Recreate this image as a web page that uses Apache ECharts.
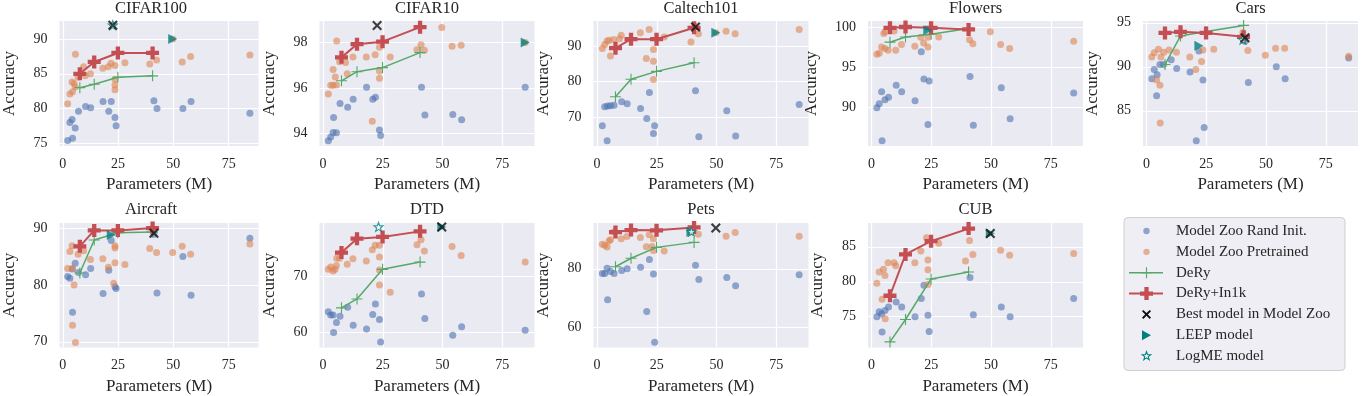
<!DOCTYPE html>
<html>
<head>
<meta charset="utf-8">
<script src="https://cdn.jsdelivr.net/npm/echarts@6/dist/echarts.min.js"></script>
<style>
  html, body { margin: 0; padding: 0; background: #fff; }
  #chart { width: 1362px; height: 396px; }
</style>
</head>
<body>
<div id="chart"></div>
<script>
const datasets = ['CIFAR100', 'CIFAR10', 'Caltech101', 'Flowers', 'Cars', 'Aircraft', 'DTD', 'Pets', 'CUB'];
const xTicks = [0, 25, 50, 75];
const yTicks = [[75, 80, 85, 90], [94, 96, 98], [70, 80, 90], [90, 95, 100], [85, 90, 95], [70, 80, 90], [60, 70], [60, 80], [75, 80, 85]];
const yRanges = [[74.6, 92.6], [93.45, 98.95], [62, 97], [85.1, 100.75], [81, 95.2], [69, 90.9], [57.3, 79.6], [53.2, 95.6], [70.6, 88.4]];
const legendNames = ['Model Zoo Rand Init.', 'Model Zoo Pretrained', 'DeRy', 'DeRy+In1k', 'Best model in Model Zoo', 'LEEP model', 'LogME model'];

// DeRy models (same sizes on every dataset)
const deryParams = [7.7, 14.2, 24.9, 40.6];
const dery = [
  [83.0, 83.5, 84.5, 84.7],
  [96.32, 96.72, 96.9, 97.56],
  [75.8, 80.7, 82.9, 85.3],
  [98.1, 98.75, 99.1, 99.8],
  [90.25, 93.5, 94.0, 94.7],
  [82.1, 87.9, 89.2, 89.3],
  [64.4, 66.0, 71.3, 72.6],
  [80.7, 83.6, 87.3, 89.0],
  [71.4, 74.6, 80.4, 81.4]
];
const deryIn1k = [
  [85.0, 86.7, 88.0, 88.0],
  [97.35, 97.93, 98.04, 98.68],
  [89.4, 91.9, 91.9, 95.1],
  [99.9, 100.0, 99.9, 99.7],
  [93.85, 93.97, 93.85, 93.4],
  [86.8, 89.6, 89.6, 90.0],
  [74.3, 76.8, 77.1, 78.1],
  [92.5, 93.2, 93.1, 94.1],
  [78.0, 83.9, 85.8, 87.6]
];

// model zoo, [params (M), accuracy]
const randInit = [
  [[2.2,75.4],[4.4,75.7],[3.2,78.0],[4.2,78.4],[5.6,77.2],[7.1,79.6],[10.3,80.3],[12.6,80.1],[18.2,81.0],[20.8,79.6],[21.9,81.0],[23.6,78.7],[24.1,77.5],[41.2,81.1],[42.6,80.0],[54.3,80.0],[58.0,81.0],[84.6,79.3]],
  [[2.2,93.68],[3.2,93.85],[4.2,94.04],[5.6,94.03],[4.4,94.7],[7.1,95.32],[10.3,95.16],[12.6,95.51],[18.2,96.04],[20.8,95.51],[21.9,95.6],[23.6,94.15],[24.1,93.91],[41.2,96.04],[42.6,94.81],[54.3,94.84],[58.0,94.6],[84.6,96.04]],
  [[2.2,67.7],[4.2,63.5],[3.2,73.0],[4.4,73.2],[5.6,73.3],[7.1,73.4],[10.3,74.4],[12.6,73.8],[18.2,72.5],[20.8,69.7],[21.9,77.0],[23.6,65.5],[24.1,67.7],[41.2,77.5],[42.6,64.6],[54.3,71.9],[58.0,64.8],[84.6,73.6]],
  [[2.2,89.9],[3.2,90.4],[4.2,91.9],[4.4,85.75],[5.6,90.9],[7.1,91.2],[10.3,92.7],[12.6,91.9],[18.2,90.75],[20.8,96.9],[21.9,93.5],[24.1,93.25],[23.6,87.8],[41.2,93.8],[42.6,87.7],[54.3,92.4],[58.0,88.5],[84.6,91.75]],
  [[2.2,88.65],[3.2,89.7],[4.2,86.7],[4.4,89.1],[5.6,90.25],[7.1,90.25],[10.3,90.8],[12.6,89.8],[18.2,89.4],[20.8,81.6],[21.9,91.8],[23.6,88.5],[24.1,83.1],[41.2,92.9],[42.6,88.2],[54.3,90.0],[58.0,88.65],[84.6,91.0]],
  [[2.2,81.5],[3.2,81.2],[4.2,82.8],[5.6,83.8],[4.4,75.2],[7.1,82.2],[10.3,81.8],[12.6,82.9],[18.2,78.5],[20.8,82.6],[21.9,87.8],[23.6,79.7],[24.1,79.4],[41.2,88.9],[42.6,78.6],[54.3,85.0],[58.0,78.2],[84.6,88.2]],
  [[2.2,63.7],[3.2,63.1],[4.2,63.1],[4.4,60.0],[5.6,61.8],[7.1,62.9],[10.3,64.5],[12.6,61.3],[18.2,60.6],[20.8,63.2],[21.9,65.1],[23.6,62.3],[24.1,58.3],[41.2,66.9],[42.6,62.5],[54.3,59.5],[58.0,61.0],[84.6,60.4]],
  [[2.2,78.4],[3.2,78.4],[4.2,80.2],[5.6,79.1],[7.1,78.4],[10.3,79.4],[12.6,80.0],[18.2,80.5],[20.8,65.5],[21.9,83.2],[23.6,78.2],[24.1,55.0],[4.4,69.5],[41.2,81.25],[42.6,76.4],[54.3,77.0],[58.0,74.2],[84.6,78.0]],
  [[2.2,75.0],[3.2,75.7],[4.4,72.8],[4.2,75.4],[5.6,75.9],[7.1,76.4],[10.3,77.1],[12.6,76.4],[18.2,75.0],[20.8,77.6],[21.9,79.5],[23.6,75.2],[24.1,72.9],[41.2,80.6],[42.6,75.3],[54.3,76.4],[58.0,75.0],[84.6,77.6]]
];
const pretrained = [
  [[2.2,80.7],[3.2,82.1],[4.2,83.8],[4.4,82.4],[5.1,83.6],[5.7,87.8],[5.6,83.1],[6.9,84.5],[9.4,86.0],[10.1,84.7],[12.5,85.0],[18.1,85.8],[20.6,86.0],[21.8,86.5],[23.6,86.2],[23.6,84.2],[23.6,83.4],[23.6,82.7],[28.1,86.6],[39.3,86.4],[42.4,87.0],[49.7,90.0],[54.0,86.7],[57.8,87.5],[84.6,87.7]],
  [[2.2,95.74],[3.2,96.12],[4.2,96.12],[5.6,96.13],[4.2,96.82],[5.1,96.49],[5.7,98.07],[6.9,97.16],[9.4,97.12],[10.1,96.63],[12.5,97.37],[18.1,97.37],[21.8,97.47],[23.6,97.79],[23.6,96.75],[23.6,96.43],[20.6,94.54],[28.1,97.37],[39.3,97.69],[41.0,97.91],[42.4,97.66],[49.7,98.66],[54.0,97.84],[57.8,97.88],[84.6,98.0]],
  [[2.2,89.3],[3.2,90.4],[4.2,91.4],[5.0,91.6],[5.6,87.2],[6.9,91.8],[9.4,92.0],[10.1,93.0],[18.1,93.7],[21.8,94.6],[20.6,86.5],[23.6,89.0],[23.6,85.7],[23.6,80.6],[28.1,92.5],[39.3,91.1],[42.4,93.4],[41.0,95.5],[49.7,93.7],[54.0,94.1],[57.8,93.4],[84.6,94.6]],
  [[2.2,96.6],[3.2,96.7],[4.2,97.5],[5.1,99.2],[5.7,99.4],[5.6,97.3],[6.9,97.1],[9.4,99.5],[10.1,97.1],[12.5,97.8],[18.1,97.6],[20.6,98.7],[21.8,98.0],[23.6,97.5],[23.6,98.7],[28.1,98.75],[41.0,98.4],[42.4,97.9],[49.7,99.4],[54.0,97.8],[57.8,97.3],[84.6,98.2]],
  [[2.2,91.1],[3.2,91.6],[4.2,88.5],[5.0,92.0],[5.6,87.9],[5.7,83.6],[6.0,91.1],[7.2,91.65],[9.4,91.9],[12.5,91.65],[18.1,91.1],[20.6,89.7],[23.0,90.6],[23.6,91.9],[28.1,92.0],[40.3,93.9],[42.4,91.85],[49.7,91.3],[54.0,92.1],[57.8,92.1],[84.6,91.2]],
  [[2.2,82.9],[3.2,85.9],[4.2,86.9],[4.4,82.9],[5.1,80.0],[4.4,72.9],[5.7,69.9],[6.9,85.4],[9.4,86.0],[12.5,84.5],[18.1,84.6],[20.6,83.1],[23.6,86.9],[23.6,86.5],[23.6,83.9],[23.0,80.3],[28.1,83.6],[39.3,86.4],[42.4,85.7],[49.7,85.7],[54.0,86.8],[57.8,85.4],[84.6,87.2]],
  [[2.2,71.3],[3.2,71.7],[4.2,71.0],[5.0,71.3],[5.6,72.0],[5.7,73.3],[6.9,73.3],[10.1,72.2],[12.5,73.2],[18.1,72.8],[20.6,74.8],[21.8,75.6],[23.6,75.6],[23.6,73.5],[23.6,71.2],[23.6,68.5],[28.1,67.2],[39.3,75.7],[41.0,76.6],[42.4,74.6],[54.0,75.4],[57.8,73.8],[84.6,72.6]],
  [[2.2,88.4],[3.2,88.0],[4.2,87.4],[5.0,89.5],[5.6,89.9],[6.9,92.5],[10.1,90.2],[12.5,91.0],[18.1,90.7],[20.6,87.5],[21.8,91.6],[23.6,90.2],[23.6,86.25],[23.0,87.6],[28.1,86.1],[39.3,92.5],[42.4,91.8],[54.0,91.1],[57.8,92.4],[84.6,91.1]],
  [[2.2,79.8],[3.2,81.4],[5.0,81.8],[5.6,80.9],[4.4,77.5],[5.7,74.7],[6.9,82.7],[9.4,82.7],[10.1,82.3],[18.1,82.7],[20.6,84.4],[23.0,86.3],[23.6,83.1],[23.6,81.7],[23.6,79.6],[28.1,85.5],[41.0,85.9],[39.3,82.95],[42.4,83.9],[54.0,84.5],[57.8,83.8],[84.6,84.05]]
];
const bestModel = [[22.6, 92.0], [22.6, 98.75], [41.2, 95.3], null, [41.2, 93.3], [41.2, 89.1], [49.7, 78.9], [49.7, 93.9], [49.7, 86.9]];
const leep = [[49.7, 90.0], [84.6, 98.0], [49.7, 93.7], [23.5, 99.6], [21.9, 92.4], [21.9, 88.8], [49.7, 78.9], [39.3, 92.5], [49.7, 86.9]];
const logme = [[22.6, 92.0], null, null, null, [40.3, 93.1], null, [23.2, 78.9], [39.5, 92.7], null];

// look
const FONT = '"Liberation Serif", "DejaVu Serif", serif';
const TXT = '#262626';
const C = { blue: '#4C72B0', orange: '#DD8452', green: '#55A868', red: '#C44E52', teal: '#008080', black: '#111111' };
const colLeft = [43.5, 319.5, 593.5, 868, 1143];
const rowTop = [21, 223];
const W = 215, H = 125;

// marker outlines in a -1..1 box
const PLUS_THIN = [[-0.1,-1],[0.1,-1],[0.1,-0.1],[1,-0.1],[1,0.1],[0.1,0.1],[0.1,1],[-0.1,1],[-0.1,0.1],[-1,0.1],[-1,-0.1],[-0.1,-0.1]];
const PLUS_FAT = [[-0.33,-1],[0.33,-1],[0.33,-0.33],[1,-0.33],[1,0.33],[0.33,0.33],[0.33,1],[-0.33,1],[-0.33,0.33],[-1,0.33],[-1,-0.33],[-0.33,-0.33]];
const XMARK = [[-1,-0.7],[-0.7,-1],[0,-0.3],[0.7,-1],[1,-0.7],[0.3,0],[1,0.7],[0.7,1],[0,0.3],[-0.7,1],[-1,0.7],[-0.3,0]];
const TRI = [[-1,-1],[1,0],[-1,1]];
const STAR = [];
for (let k = 0; k < 10; k++) {
  const r = k % 2 ? 0.4 : 1;
  const a = -Math.PI / 2 + k * Math.PI / 5;
  STAR.push([r * Math.cos(a), r * Math.sin(a)]);
}
const sym = pts => 'path://' + pts.map((p, k) => (k ? 'L' : 'M') + p[0].toFixed(3) + ',' + p[1].toFixed(3)).join(' ') + ' Z';

const grids = [], xAxes = [], yAxes = [], series = [], graphics = [];
// tick labels go through rich text so the serif face is kept
const tickLabel = (values, margin) => ({
  customValues: values, margin,
  formatter: v => '{t|' + v + '}',
  rich: { t: { fontSize: 14, fontFamily: FONT, color: TXT } }
});
const nameFont = { fontSize: 17, color: TXT, fontFamily: FONT };

datasets.forEach((name, i) => {
  const row = i < 5 ? 0 : 1;
  const col = i % 5;
  const left = colLeft[col], top = rowTop[row];
  grids.push({ left, top, width: W, height: H, show: true, backgroundColor: '#EAEAF2', borderWidth: 0, containLabel: false });
  xAxes.push({
    gridIndex: i, type: 'value', min: -1.5, max: 88.5,
    axisLine: { show: false },
    axisTick: { show: false, customValues: xTicks },
    axisLabel: tickLabel(xTicks, 11),
    splitLine: { show: true, lineStyle: { color: '#ffffff', width: 1.2 } },
    name: 'Parameters (M)', nameLocation: 'middle', nameGap: 30.5,
    nameTextStyle: nameFont
  });
  yAxes.push({
    gridIndex: i, type: 'value', min: yRanges[i][0], max: yRanges[i][1],
    axisLine: { show: false },
    axisTick: { show: false, customValues: yTicks[i] },
    axisLabel: tickLabel(yTicks[i], 12),
    splitLine: { show: true, lineStyle: { color: '#ffffff', width: 1.2 } },
    name: 'Accuracy', nameLocation: 'middle', nameGap: name === 'Flowers' ? 47.5 : 41.5,
    nameTextStyle: nameFont
  });
  graphics.push({
    type: 'text', x: left + W / 2, y: row === 0 ? 8.5 : 209.5, silent: true,
    style: { text: name, fontSize: 16.5, fontFamily: FONT, fill: TXT, align: 'center', verticalAlign: 'middle' }
  });

  const base = { xAxisIndex: i, yAxisIndex: i, clip: false, animation: false };
  series.push(Object.assign({}, base, {
    name: legendNames[0], type: 'scatter', data: randInit[i], symbolSize: 7, z: 2,
    itemStyle: { color: C.blue, opacity: 0.6 }
  }));
  series.push(Object.assign({}, base, {
    name: legendNames[1], type: 'scatter', data: pretrained[i], symbolSize: 7, z: 2,
    itemStyle: { color: C.orange, opacity: 0.6 }
  }));
  series.push(Object.assign({}, base, {
    name: legendNames[2], type: 'line', data: deryParams.map((x, j) => [x, dery[i][j]]),
    symbol: sym(PLUS_THIN), symbolSize: 11, showSymbol: true, z: 3,
    lineStyle: { color: C.green, width: 1.5 }, itemStyle: { color: C.green }
  }));
  series.push(Object.assign({}, base, {
    name: legendNames[3], type: 'line', data: deryParams.map((x, j) => [x, deryIn1k[i][j]]),
    symbol: sym(PLUS_FAT), symbolSize: 13, showSymbol: true, z: 4,
    lineStyle: { color: C.red, width: 2 }, itemStyle: { color: C.red }
  }));
  series.push(Object.assign({}, base, {
    name: legendNames[5], type: 'scatter', data: leep[i] ? [leep[i]] : [],
    symbol: sym(TRI), symbolSize: [9, 10], z: 5, itemStyle: { color: C.teal }
  }));
  series.push(Object.assign({}, base, {
    name: legendNames[6], type: 'scatter', data: logme[i] ? [logme[i]] : [],
    symbol: sym(STAR), symbolSize: 9, z: 6,
    itemStyle: { color: '#ffffff', borderColor: C.teal, borderWidth: 1.1 }
  }));
  series.push(Object.assign({}, base, {
    name: legendNames[4], type: 'scatter', data: bestModel[i] ? [bestModel[i]] : [],
    symbol: sym(XMARK), symbolSize: 10, z: 7, itemStyle: { color: C.black }
  }));
});

// legend box (drawn by hand so the marker sizes match the plots)
const lgX = 1124, lgY = 217.5, rowY0 = 231, rowStep = 20.85, iconX = 1146.5, textX = 1176;
graphics.push({
  type: 'rect', silent: true, z: 10,
  shape: { x: lgX, y: lgY, width: 221, height: 153, r: 4 },
  style: { fill: '#EEEEF4', stroke: '#CFCFCF', lineWidth: 1 }
});
function iconPoly(pts, cx, cy, w, h, style) {
  return {
    type: 'polygon', silent: true, z: 12,
    shape: { points: pts.map(p => [cx + p[0] * w / 2, cy + p[1] * h / 2]) },
    style
  };
}
legendNames.forEach((lab, k) => {
  const cy = rowY0 + k * rowStep;
  graphics.push({
    type: 'text', x: textX, y: cy, silent: true, z: 12,
    style: { text: lab, fontSize: 15, fontFamily: FONT, fill: TXT, align: 'left', verticalAlign: 'middle' }
  });
  if (k === 0 || k === 1) {
    graphics.push({ type: 'circle', silent: true, z: 12, shape: { cx: iconX, cy, r: 3.2 }, style: { fill: k === 0 ? C.blue : C.orange, opacity: 0.6 } });
  } else if (k === 2 || k === 3) {
    const col = k === 2 ? C.green : C.red;
    graphics.push({ type: 'line', silent: true, z: 12, shape: { x1: 1129, y1: cy, x2: 1163, y2: cy }, style: { stroke: col, lineWidth: k === 2 ? 1.5 : 2 } });
    const s = k === 2 ? 11 : 13;
    graphics.push(iconPoly(k === 2 ? PLUS_THIN : PLUS_FAT, iconX, cy, s, s, { fill: col }));
  } else if (k === 4) {
    graphics.push(iconPoly(XMARK, iconX, cy, 9, 9, { fill: C.black }));
  } else if (k === 5) {
    graphics.push(iconPoly(TRI, iconX, cy, 9, 10, { fill: C.teal }));
  } else {
    graphics.push(iconPoly(STAR, iconX, cy, 9, 9, { fill: '#ffffff', stroke: C.teal, lineWidth: 1.1 }));
  }
});

const chart = echarts.init(document.getElementById('chart'), null, { renderer: 'canvas' });
chart.setOption({
  backgroundColor: '#ffffff',
  animation: false,
  textStyle: { fontFamily: FONT, color: TXT },
  grid: grids,
  xAxis: xAxes,
  yAxis: yAxes,
  series: series,
  graphic: graphics
});
</script>
</body>
</html>
